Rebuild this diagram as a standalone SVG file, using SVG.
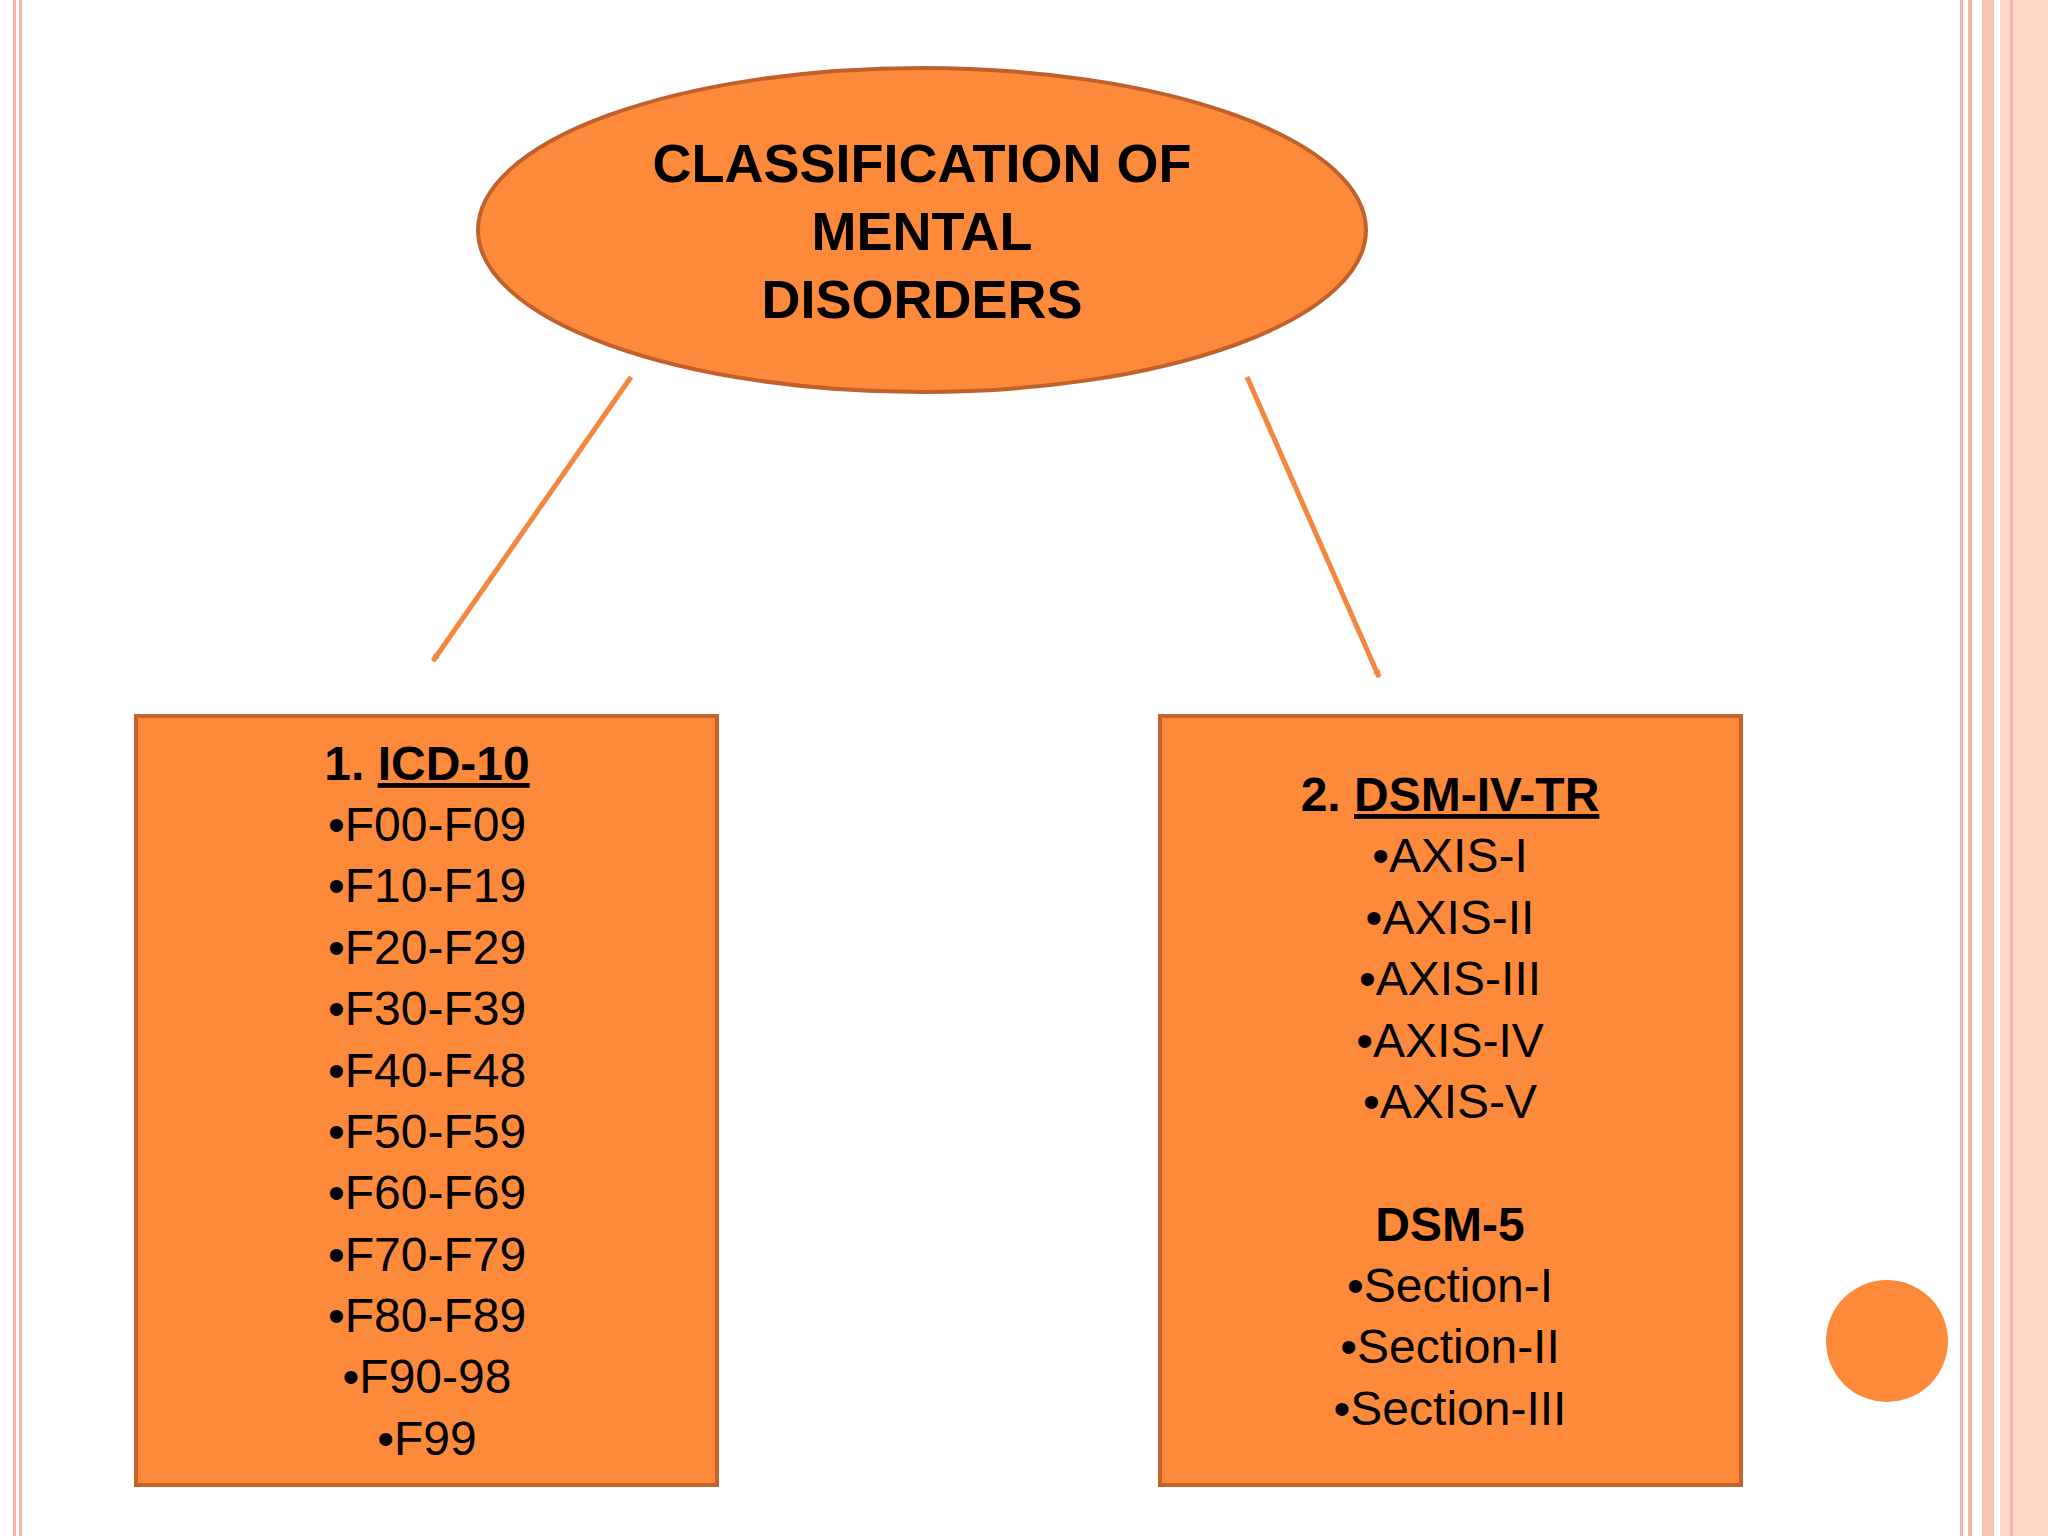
<svg xmlns="http://www.w3.org/2000/svg" width="2048" height="1536" viewBox="0 0 2048 1536">
<style>
.box{fill:#fd8a3a;stroke:#c4632a;stroke-width:4}
.t{font-family:"Liberation Sans",Arial,sans-serif;font-size:48px;fill:#000;text-anchor:middle}
.b{font-weight:bold}
.h{font-family:"Liberation Sans",Arial,sans-serif;font-size:54px;font-weight:bold;text-anchor:middle}
.c{stroke:#f4863e;stroke-width:5;fill:none}
</style>
<defs><marker id="ah" viewBox="0 0 20 20" refX="18" refY="10" markerWidth="8" markerHeight="8" orient="auto" markerUnits="userSpaceOnUse"><path d="M2,2 L18,10 L2,18" fill="none" stroke="#f4863e" stroke-width="3"/></marker></defs>
<rect width="2048" height="1536" fill="#fff"/>
<g id="border">
<rect x="13" y="0" width="3" height="1536" fill="#f6b4a4"/>
<rect x="19" y="0" width="3" height="1536" fill="#f6b4a4"/>
<rect x="1960" y="0" width="3" height="1536" fill="#f6b4a4"/>
<rect x="1968" y="0" width="4" height="1536" fill="#f6b4a4"/>
<rect x="1982" y="0" width="12" height="1536" fill="#f9c6b4"/>
<rect x="2000" y="0" width="48" height="1536" fill="#fcd8c8"/>
<rect x="2010" y="0" width="3" height="1536" fill="#f6b4a4"/>
</g>
<g id="connectors">
<line class="c" x1="631" y1="377" x2="433" y2="661" marker-end="url(#ah)"/>
<line class="c" x1="1247" y1="377" x2="1379" y2="677" marker-end="url(#ah)"/>
</g>
<g id="title">
<ellipse cx="922" cy="230" rx="444" ry="162" fill="#fd8a3a" stroke="#c0602a" stroke-width="4"/>
<text class="h" x="922" y="182">CLASSIFICATION OF</text>
<text class="h" x="922" y="250">MENTAL</text>
<text class="h" x="922" y="318">DISORDERS</text>
</g>
<g id="icd">
<rect class="box" x="136" y="716" width="581" height="769"/>
<text class="t" x="427" y="780"><tspan class="b">1. </tspan><tspan class="b" text-decoration="underline">ICD-10</tspan></text>
<text class="t" x="427" y="841">•F00-F09</text>
<text class="t" x="427" y="902">•F10-F19</text>
<text class="t" x="427" y="964">•F20-F29</text>
<text class="t" x="427" y="1025">•F30-F39</text>
<text class="t" x="427" y="1087">•F40-F48</text>
<text class="t" x="427" y="1148">•F50-F59</text>
<text class="t" x="427" y="1209">•F60-F69</text>
<text class="t" x="427" y="1271">•F70-F79</text>
<text class="t" x="427" y="1332">•F80-F89</text>
<text class="t" x="427" y="1393">•F90-98</text>
<text class="t" x="427" y="1455">•F99</text>
</g>
<g id="dsm">
<rect class="box" x="1160" y="716" width="581" height="769"/>
<text class="t" x="1450" y="811"><tspan class="b">2. </tspan><tspan class="b" text-decoration="underline">DSM-IV-TR</tspan></text>
<text class="t" x="1450" y="872">•AXIS-I</text>
<text class="t" x="1450" y="934">•AXIS-II</text>
<text class="t" x="1450" y="995">•AXIS-III</text>
<text class="t" x="1450" y="1057">•AXIS-IV</text>
<text class="t" x="1450" y="1118">•AXIS-V</text>
<text class="t b" x="1450" y="1241">DSM-5</text>
<text class="t" x="1450" y="1302">•Section-I</text>
<text class="t" x="1450" y="1363">•Section-II</text>
<text class="t" x="1450" y="1425">•Section-III</text>
</g>
<g id="dot"><circle cx="1887" cy="1341" r="61" fill="#fd8a3a"/></g>
</svg>
